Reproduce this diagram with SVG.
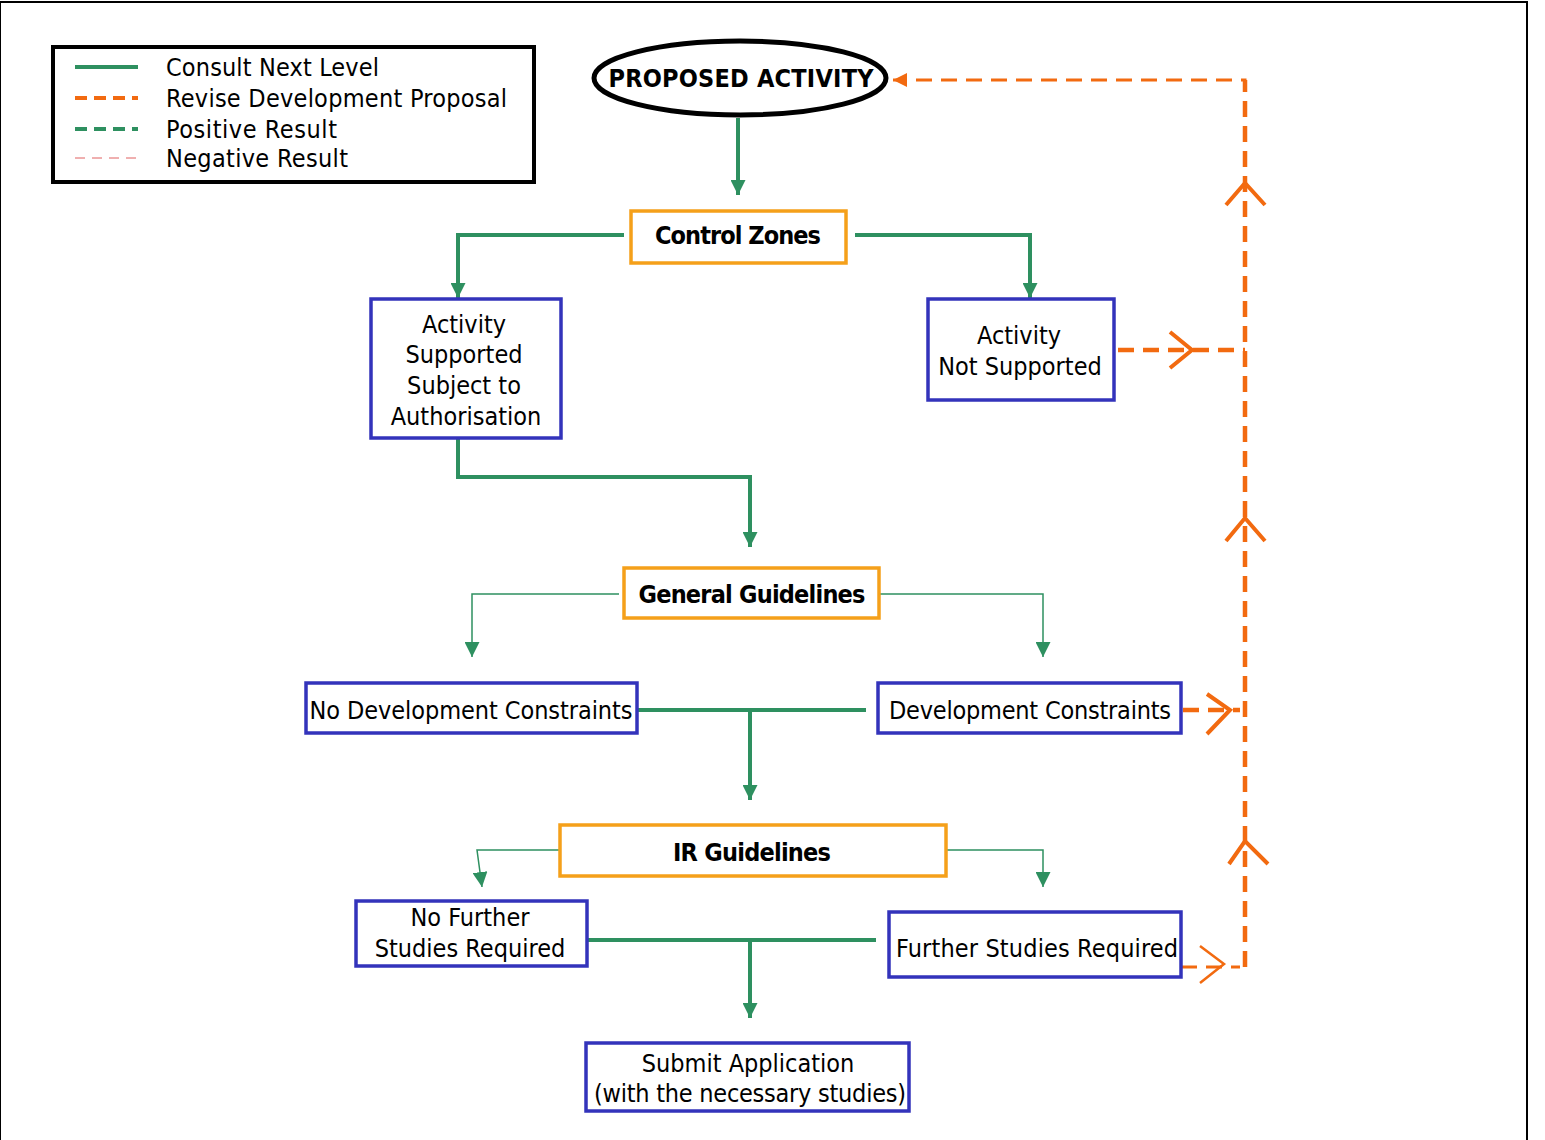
<svg xmlns="http://www.w3.org/2000/svg" width="1545" height="1140" viewBox="0 0 1545 1140">
<style>
text{font-family:"DejaVu Sans Condensed","Liberation Sans",sans-serif;font-size:25px;fill:#000;text-anchor:middle}
.b{font-weight:bold}
.l{text-anchor:start}
.box{fill:#fff;stroke:#3333bb;stroke-width:3.5}
.ob{fill:#fff;stroke:#f5a01a;stroke-width:3.5}
.g{fill:none;stroke:#2e9060;stroke-width:4}
.gt{fill:none;stroke:#2e9060;stroke-width:1.5}
.o{fill:none;stroke:#f26a10;stroke-width:4.5;stroke-dasharray:16 9}
.ch{fill:none;stroke:#f26a10;stroke-width:4}
</style>
<defs>
<marker id="ga" viewBox="0 0 10 10" refX="10" refY="5" markerWidth="15" markerHeight="15" markerUnits="userSpaceOnUse" orient="auto"><path d="M0,0L10,5L0,10z" fill="#2e9060"/></marker>
<marker id="oa" viewBox="0 0 10 10" refX="10" refY="5" markerWidth="14" markerHeight="14" markerUnits="userSpaceOnUse" orient="auto"><path d="M0,0L10,5L0,10z" fill="#f26a10"/></marker>
</defs>
<rect x="0" y="2" width="1527" height="1160" fill="#fff" stroke="#000" stroke-width="2"/>
<g id="legend">
<rect x="53" y="47" width="481" height="135" fill="#fff" stroke="#000" stroke-width="4"/>
<line x1="75" y1="67" x2="138" y2="67" stroke="#2e9060" stroke-width="4"/>
<line x1="75" y1="98" x2="138" y2="98" stroke="#f26a10" stroke-width="4" stroke-dasharray="12 7"/>
<line x1="75" y1="129" x2="138" y2="129" stroke="#2e9060" stroke-width="4" stroke-dasharray="12 7"/>
<line x1="75" y1="158" x2="138" y2="158" stroke="#e06060" stroke-width="1" stroke-dasharray="10 7"/>
<text class="l" x="166" y="76" textLength="213">Consult Next Level</text>
<text class="l" x="166" y="107" textLength="341">Revise Development Proposal</text>
<text class="l" x="166" y="138" textLength="171">Positive Result</text>
<text class="l" x="166" y="167" textLength="182">Negative Result</text>
</g>
<g id="connectors">
<path class="g" d="M738,118V195" marker-end="url(#ga)"/>
<path class="g" d="M624,235H458V298" marker-end="url(#ga)"/>
<path class="g" d="M855,235H1030V298" marker-end="url(#ga)"/>
<path class="g" d="M458,438V477H750V547" marker-end="url(#ga)"/>
<path class="gt" d="M619,594H472V657" marker-end="url(#ga)"/>
<path class="gt" d="M879,594H1043V657" marker-end="url(#ga)"/>
<path class="g" d="M637,710H866M750,710V800" marker-end="url(#ga)"/>
<path class="gt" d="M560,850H477L482,887" marker-end="url(#ga)"/>
<path class="gt" d="M946,850H1043V887" marker-end="url(#ga)"/>
<path class="g" d="M587,940H876M750,940V1018" marker-end="url(#ga)"/>
<path class="o" d="M1245,967V80H893" marker-end="url(#oa)" style="stroke-width:3"/>
<path class="o" d="M1245,967V80"/>
<path class="o" d="M1118,350H1245"/>
<path class="o" d="M1183,710H1240"/>
<path class="o" d="M1181,967H1240" style="stroke-width:3"/>
<path class="ch" d="M1226,205L1245,183L1265,205"/>
<path class="ch" d="M1226,541L1245,518L1265,541"/>
<path class="ch" d="M1229,864L1245,841L1268,864"/>
<path class="ch" d="M1170,332L1192,350L1170,368"/>
<path class="ch" d="M1207,694L1230,710L1207,734"/>
<path class="ch" d="M1200,946L1224,964L1200,983" style="stroke-width:2.5"/>
</g>
<g id="proposed">
<ellipse cx="740" cy="78" rx="146" ry="37" fill="#fff" stroke="#000" stroke-width="5"/>
<text class="b" x="741" y="87" textLength="265">PROPOSED ACTIVITY</text>
</g>
<g id="control"><rect class="ob" x="631" y="211" width="215" height="52"/><text class="b" x="738" y="244" textLength="166">Control Zones</text></g>
<g id="supported"><rect class="box" x="371" y="299" width="190" height="139"/>
<text x="464" y="333">Activity</text><text x="464" y="363">Supported</text><text x="464" y="394">Subject to</text><text x="466" y="425">Authorisation</text></g>
<g id="notsupported"><rect class="box" x="928" y="299" width="186" height="101"/>
<text x="1019" y="344">Activity</text><text x="1020" y="375">Not Supported</text></g>
<g id="general"><rect class="ob" x="624" y="568" width="255" height="50"/><text class="b" x="752" y="603" textLength="227">General Guidelines</text></g>
<g id="nodev"><rect class="box" x="306" y="683" width="331" height="50"/><text x="471" y="719" textLength="323">No Development Constraints</text></g>
<g id="dev"><rect class="box" x="878" y="683" width="303" height="50"/><text x="1030" y="719" textLength="282">Development Constraints</text></g>
<g id="ir"><rect class="ob" x="560" y="825" width="386" height="51"/><text class="b" x="752" y="861" textLength="158">IR Guidelines</text></g>
<g id="nofurther"><rect class="box" x="356" y="901" width="231" height="65"/>
<text x="470" y="926">No Further</text><text x="470" y="957">Studies Required</text></g>
<g id="further"><rect class="box" x="889" y="912" width="292" height="65"/><text x="1037" y="957" textLength="282">Further Studies Required</text></g>
<g id="submit"><rect class="box" x="586" y="1043" width="323" height="68"/>
<text x="748" y="1072">Submit Application</text><text x="750" y="1102" textLength="312">(with the necessary studies)</text></g>
</svg>
